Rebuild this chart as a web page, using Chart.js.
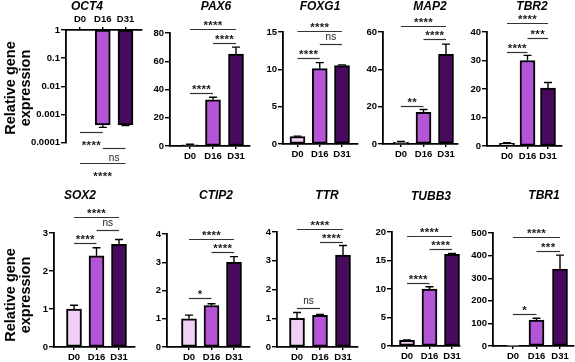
<!DOCTYPE html>
<html>
<head>
<meta charset="utf-8">
<script src="https://cdn.jsdelivr.net/npm/chart.js@4.4.0/dist/chart.umd.min.js"></script>
<style>
  body { margin: 0; background: #fff; }
  #wrap { position: relative; width: 575px; height: 362px; }
  #wrap canvas { position: absolute; left: 0; top: 0; }
</style>
</head>
<body>
<div id="wrap"></div>
<script>
const days = ['D0', 'D16', 'D31'];
const genes = ['OCT4', 'PAX6', 'FOXG1', 'MAP2', 'TBR2', 'SOX2', 'CTIP2', 'TTR', 'TUBB3', 'TBR1'];

// mean relative expression and error (SEM) per day
const oct4 = [1, 0.00043, 0.00043];
const oct4Err = [0, 0.00008, 0.00002];
const pax6 = [0.9, 32.7, 65];
const pax6Err = [0.3, 1.8, 5];
const foxg1 = [1.0, 10.1, 10.5];
const foxg1Err = [0.05, 0.8, 0.1];
const map2 = [0.9, 17, 48];
const map2Err = [0.4, 1.5, 5.5];
const tbr2 = [0.9, 30, 20.3];
const tbr2Err = [0.3, 1.8, 2];
const sox2 = [1.0, 2.4, 2.7];
const sox2Err = [0.1, 0.21, 0.13];
const ctip2 = [1.0, 1.47, 3.0];
const ctip2Err = [0.13, 0.06, 0.2];
const ttr = [1.0, 1.1, 3.2];
const ttrErr = [0.2, 0.03, 0.33];
const tubb3 = [1.0, 10, 16.1];
const tubb3Err = [0.05, 0.4, 0.15];
const tbr1 = [1, 115, 340];
const tbr1Err = [0, 8, 62];

const values = [oct4, pax6, foxg1, map2, tbr2, sox2, ctip2, ttr, tubb3, tbr1];
const errors = [oct4Err, pax6Err, foxg1Err, map2Err, tbr2Err, sox2Err, ctip2Err, ttrErr, tubb3Err, tbr1Err];

// y axis ranges / ticks
const yMax = [1, 80, 15, 60, 40, 3, 4, 4, 20, 500];
const yStep = [null, 20, 5, 20, 10, 1, 1, 1, 5, 100];
const logTicks = [1, 0.1, 0.01, 0.001, 0.0001];

// significance: D0 vs D16, D16 vs D31, D0 vs D31
const pairs = [[0, 1], [1, 2], [0, 2]];
const sig = [
  ['****', 'ns', '****'],
  ['****', '****', '****'],
  ['****', 'ns', '****'],
  ['**', '****', '****'],
  ['****', '***', '****'],
  ['****', 'ns', '****'],
  ['*', '****', '****'],
  ['ns', '****', '****'],
  ['****', '****', '****'],
  ['*', '***', '****']
];

// layout: plot box [left, right, top, bottom, x of D0, x of D31]
const boxes = [
  [66, 142, 30, 142.7, 80, 125.5],
  [170, 250, 33, 146, 190, 236],
  [283, 358, 32, 144, 297.5, 342],
  [383, 458, 32, 144, 401, 446],
  [487, 562, 32, 146, 507, 548],
  [54, 135, 233, 347, 74, 119],
  [167, 250, 234, 347, 189, 234],
  [277, 358, 232, 347, 297, 343],
  [392, 460, 232, 346, 407, 452],
  [493, 574, 233, 346, 513, 560]
];
const bracketY = [
  [131.7, 148.3, 162.7],
  [93.3, 43.3, 29.3],
  [58, 44, 30.7],
  [106, 39.3, 25.7],
  [51.7, 37.7, 23.3],
  [242.7, 230, 216.7],
  [298.3, 251.7, 239.3],
  [307.7, 241.7, 229],
  [282.7, 249, 236],
  [314, 251, 237.3]
];
const titlePos = [[87, 7], [216, 7], [320, 7], [430, 7], [532, 7],
                  [80, 196], [216, 196], [327, 196], [431, 197], [544, 196]];

const dayColors = ['#F0D0F5', '#B455D8', '#470A5E'];
const FONT = 'Liberation Sans';
const tickFont = { family: FONT, size: 9.5, weight: 'bold' };
const YW = 40, XH = 16, W = 575, H = 362;

function extras(k) {
  const isLog = k === 0;
  return {
    id: 'extras' + k,
    afterDatasetsDraw(chart) {
      const ctx = chart.ctx;
      const xs = chart.scales.x, ys = chart.scales.y;
      const meta = chart.getDatasetMeta(0);
      ctx.save();
      // error bars
      ctx.strokeStyle = '#000';
      ctx.lineWidth = 1.4;
      meta.data.forEach((bar, i) => {
        const v = values[k][i], e = errors[k][i];
        if (!e) return;
        const y0 = ys.getPixelForValue(v);
        const y1 = ys.getPixelForValue(isLog ? v - e : v + e);
        ctx.beginPath();
        ctx.moveTo(bar.x, y0); ctx.lineTo(bar.x, y1);
        ctx.moveTo(bar.x - 4, y1); ctx.lineTo(bar.x + 4, y1);
        ctx.stroke();
      });
      // significance brackets
      ctx.textAlign = 'center';
      ctx.textBaseline = 'alphabetic';
      pairs.forEach(([a, b], j) => {
        const xa = xs.getPixelForValue(a), xb = xs.getPixelForValue(b);
        const ly = Math.round(bracketY[k][j]) + 0.5;
        ctx.strokeStyle = '#333';
        ctx.lineWidth = 1.2;
        ctx.beginPath(); ctx.moveTo(xa, ly); ctx.lineTo(xb, ly); ctx.stroke();
        const label = sig[k][j];
        const cy = isLog ? ly + 10 : ly - 7.5;
        ctx.fillStyle = '#1a1a1a';
        if (label === 'ns') {
          ctx.font = '10px "' + FONT + '"';
          ctx.fillText(label, (xa + xb) / 2, cy + 2.6);
        } else {
          ctx.font = 'bold 11.5px "' + FONT + '"';
          ctx.letterSpacing = '0.3px';
          ctx.fillText(label, (xa + xb) / 2, cy + 6.6);
          ctx.letterSpacing = '0px';
        }
      });
      // gene title
      ctx.fillStyle = '#000';
      ctx.font = 'italic bold 12px "' + FONT + '"';
      ctx.textBaseline = 'middle';
      ctx.fillText(genes[k], titlePos[k][0], titlePos[k][1]);
      // shared y label
      if (k % 5 === 0) {
        const cy = k === 0 ? 88 : 295;
        ctx.translate(18, cy);
        ctx.rotate(-Math.PI / 2);
        ctx.font = 'bold 14.5px "' + FONT + '"';
        ctx.fillText('Relative gene', 0, -7);
        ctx.fillText('expression', 0, 8);
      }
      ctx.restore();
    }
  };
}

function makeChart(k) {
  const cv = document.createElement('canvas');
  cv.width = W; cv.height = H;
  document.getElementById('wrap').appendChild(cv);
  const [left, right, top, bottom, c0, c2] = boxes[k];
  const s = (c2 - c0) / 2;
  const isLog = k === 0;
  const axisGrid = { drawOnChartArea: false, color: '#000', lineWidth: 1.4, offset: false };
  const axisBorder = { color: '#000', width: 1.8 };

  const yScale = isLog ? {
    type: 'logarithmic', min: 0.0001, max: 1,
    afterBuildTicks: sc => { sc.ticks = logTicks.map(v => ({ value: v })); },
    ticks: { callback: v => String(v), font: tickFont, color: '#000', padding: 1, autoSkip: false }
  } : {
    type: 'linear', min: 0, max: yMax[k],
    ticks: { stepSize: yStep[k], font: tickFont, color: '#000', padding: 1, autoSkip: false }
  };
  yScale.afterFit = sc => { sc.width = YW; };
  yScale.grid = Object.assign({}, axisGrid, { tickLength: 5 });
  yScale.border = axisBorder;

  new Chart(cv, {
    type: 'bar',
    data: {
      datasets: [{
        data: values[k].map((v, i) => ({ x: i, y: isLog ? [v, 1] : v })),
        backgroundColor: dayColors,
        borderColor: '#000',
        borderWidth: 2,
        borderSkipped: false,
        barThickness: 15
      }]
    },
    options: {
      responsive: false,
      animation: false,
      events: [],
      layout: {
        padding: {
          left: left - YW,
          right: W - right,
          top: isLog ? top - XH : top,
          bottom: isLog ? H - bottom : H - bottom - XH
        }
      },
      plugins: { legend: { display: false }, tooltip: { enabled: false } },
      scales: {
        x: {
          type: 'linear',
          position: isLog ? 'top' : 'bottom',
          offset: false,
          min: -(c0 - left) / s,
          max: 2 + (right - c2) / s,
          afterBuildTicks: sc => { sc.ticks = [0, 1, 2].map(v => ({ value: v })); },
          afterFit: sc => { sc.height = XH; },
          ticks: { callback: v => days[v], font: tickFont, color: '#000', padding: 2, autoSkip: false, maxRotation: 0 },
          grid: Object.assign({}, axisGrid, { tickLength: 3 }),
          border: axisBorder
        },
        y: yScale
      }
    },
    plugins: [extras(k)]
  });
}

for (let k = 0; k < genes.length; k++) makeChart(k);
</script>
</body>
</html>
